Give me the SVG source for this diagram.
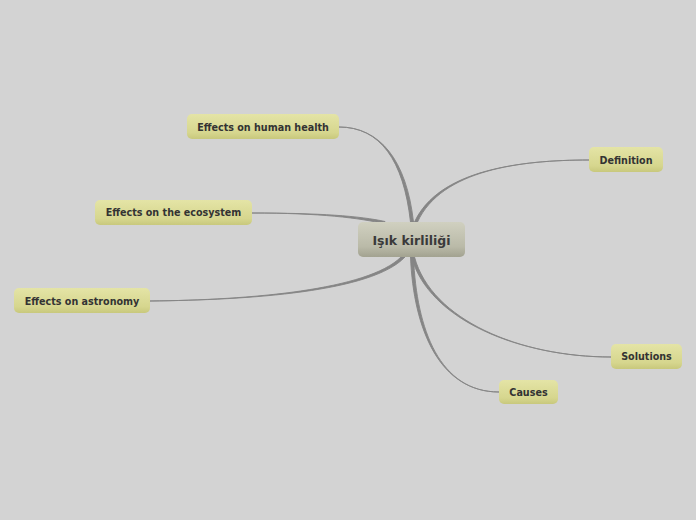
<svg xmlns="http://www.w3.org/2000/svg" width="696" height="520" viewBox="0 0 696 520">
<defs>
<linearGradient id="gChild" x1="0" y1="0" x2="0" y2="1">
<stop offset="0" stop-color="#e4e4a6"/>
<stop offset="0.75" stop-color="#d6d68e"/>
<stop offset="1" stop-color="#c8c87c"/>
</linearGradient>
<linearGradient id="gRoot" x1="0" y1="0" x2="0" y2="1">
<stop offset="0" stop-color="#d0d0c0"/>
<stop offset="0.7" stop-color="#babaa8"/>
<stop offset="1" stop-color="#a2a290"/>
</linearGradient>
<style>
.child{fill:url(#gChild);}
.root{fill:url(#gRoot);}
.t{font-family:"DejaVu Sans","Liberation Sans",sans-serif;font-weight:bold;font-size:9.6px;fill:#333333;text-anchor:middle;}
.rt{font-family:"DejaVu Sans","Liberation Sans",sans-serif;font-weight:bold;font-size:12.5px;fill:#3a3a3a;text-anchor:middle;}
.c{fill:#858585;stroke:#858585;stroke-width:0.9;stroke-linejoin:round;}
</style>
</defs>
<rect width="696" height="520" fill="#d3d3d3"/>
<g id="connectors">
<path class="c" d="M414.5,222 C438.5,170 520,160 589,160 C520,160 441.5,170 417.5,222 Z"/>
<path class="c" d="M410.5,222 C403.5,160 380,127 339,127 C380,127 406.5,160 413.5,222 Z"/>
<path class="c" d="M252,213 C320,213 360,216 385,221.5 L385,224 C360,218 320,213 252,213 Z"/>
<path class="c" d="M150,301 C250,300 368,290 401,257 L405,257 C372,292 250,300 150,301 Z"/>
<path class="c" d="M411.5,257 C428.5,320 520,357 611,357 C520,357 431.5,320 414.5,257 Z"/>
<path class="c" d="M410.5,257 C413.5,330 440,392 499,392 C440,392 416.5,330 413.5,257 Z"/>
</g>
<g id="root">
<rect class="root" x="358" y="222" width="107" height="35" rx="5"/>
<text class="rt" x="411.5" y="244.5">Işık kirliliği</text>
</g>
<g id="n-human-health">
<rect class="child" x="187" y="114" width="152" height="25" rx="5"/>
<text class="t" x="263" y="130.5">Effects on human health</text>
</g>
<g id="n-ecosystem">
<rect class="child" x="95" y="200" width="157" height="25" rx="5"/>
<text class="t" x="173.5" y="216">Effects on the ecosystem</text>
</g>
<g id="n-astronomy">
<rect class="child" x="14" y="288" width="136" height="25" rx="5"/>
<text class="t" x="82" y="304.5">Effects on astronomy</text>
</g>
<g id="n-definition">
<rect class="child" x="589" y="147" width="74" height="25" rx="5"/>
<text class="t" x="626" y="163.5">Definition</text>
</g>
<g id="n-solutions">
<rect class="child" x="611" y="344" width="71" height="25" rx="5"/>
<text class="t" x="646.5" y="360">Solutions</text>
</g>
<g id="n-causes">
<rect class="child" x="499" y="380" width="59" height="24" rx="5"/>
<text class="t" x="528.5" y="396">Causes</text>
</g>
</svg>
